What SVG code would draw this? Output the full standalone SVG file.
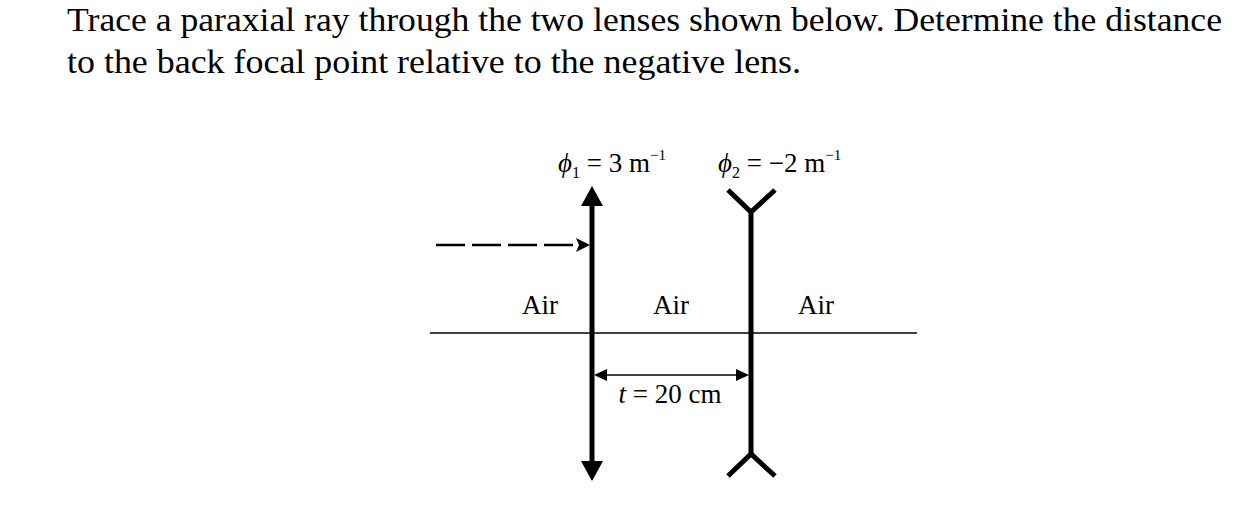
<svg xmlns="http://www.w3.org/2000/svg" width="1260" height="514" viewBox="0 0 1260 514">
<style>
text{font-family:"Liberation Serif","Times New Roman",serif;fill:#000}
.t{font-size:34px}
.l{font-size:27px}
.lens{stroke:#000;stroke-width:5;fill:none}
</style>
<rect width="1260" height="514" fill="#fff"/>
<g id="title">
<text class="t" x="67" y="31" textLength="1155" lengthAdjust="spacingAndGlyphs">Trace a paraxial ray through the two lenses shown below. Determine the distance</text>
<text class="t" x="67" y="73" textLength="734" lengthAdjust="spacingAndGlyphs">to the back focal point relative to the negative lens.</text>
</g>
<g id="axis"><line x1="430" y1="333" x2="917" y2="333" stroke="#000" stroke-width="1.5"/></g>
<g id="lens1">
<line class="lens" x1="592" y1="203" x2="592" y2="464"/>
<polygon points="592,186 581,206 603,206"/>
<polygon points="592,481 581,461 603,461"/>
<text class="l" x="558" y="172"><tspan font-style="italic">ϕ</tspan><tspan font-size="16" dy="6">1</tspan><tspan dy="-6"> = 3 m</tspan><tspan font-size="15" dy="-12">−1</tspan></text>
</g>
<g id="lens2">
<polyline class="lens" points="728,190 751,212 775,190"/>
<line class="lens" x1="751" y1="212" x2="751" y2="454"/>
<polyline class="lens" points="728,476 751,454 775,476"/>
<text class="l" x="718" y="172"><tspan font-style="italic">ϕ</tspan><tspan font-size="16" dy="6">2</tspan><tspan dy="-6"> = −2 m</tspan><tspan font-size="15" dy="-12">−1</tspan></text>
</g>
<g id="labels">
<text class="l" x="540" y="314" text-anchor="middle">Air</text>
<text class="l" x="671" y="314" text-anchor="middle">Air</text>
<text class="l" x="816" y="314" text-anchor="middle">Air</text>
<text class="l" x="670" y="403" text-anchor="middle"><tspan font-style="italic">t</tspan> = 20 cm</text>
</g>
<g id="connectors">
<line x1="436" y1="245" x2="576" y2="245" stroke="#000" stroke-width="2.5" stroke-dasharray="29,7"/>
<polygon points="590,245 576,238 579,245 576,252"/>
<line x1="605" y1="375" x2="738" y2="375" stroke="#000" stroke-width="1.5"/>
<polygon points="594,375 607,369 607,381"/>
<polygon points="749,375 736,369 736,381"/>
</g>
</svg>
